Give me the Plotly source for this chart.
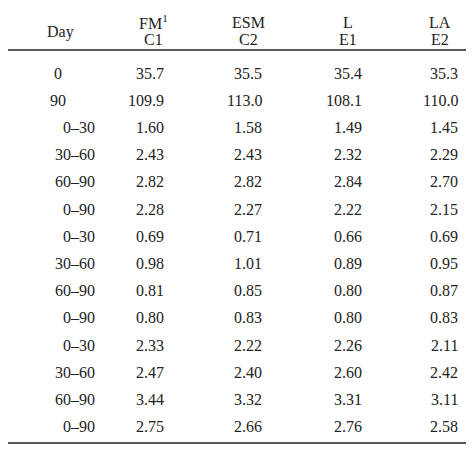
import plotly.graph_objects as go

days = ["0", "90", "0–30", "30–60", "60–90", "0–90", "0–30", "30–60", "60–90", "0–90",
        "0–30", "30–60", "60–90", "0–90"]
fm = ["35.7", "109.9", "1.60", "2.43", "2.82", "2.28", "0.69", "0.98", "0.81", "0.80",
      "2.33", "2.47", "3.44", "2.75"]
esm = ["35.5", "113.0", "1.58", "2.43", "2.82", "2.27", "0.71", "1.01", "0.85", "0.83",
       "2.22", "2.40", "3.32", "2.66"]
l_e1 = ["35.4", "108.1", "1.49", "2.32", "2.84", "2.22", "0.66", "0.89", "0.80", "0.80",
        "2.26", "2.60", "3.31", "2.76"]
la_e2 = ["35.3", "110.0", "1.45", "2.29", "2.70", "2.15", "0.69", "0.95", "0.87", "0.83",
         "2.11", "2.42", "3.11", "2.58"]
headers = [("Day", ""), ("FM<sup>1</sup>", "C1"), ("ESM", "C2"), ("L", "E1"), ("LA", "E2")]
footer = "eight; <sup>1</sup><i>P</i> &lt; 0.05 E1:E3"

fnt = dict(family="Liberation Serif", size=16, color="#222")
fig = go.Figure(layout=go.Layout(width=474, height=474, margin=dict(l=0, r=0, t=0, b=0),
                                 paper_bgcolor="white", plot_bgcolor="white", showlegend=False))
fig.add_scatter(x=[0, 474], y=[0, 474], mode="markers", marker=dict(opacity=0), hoverinfo="skip")
fig.update_xaxes(range=[0, 474], visible=False, fixedrange=True)
fig.update_yaxes(range=[474, 0], visible=False, fixedrange=True)

hx = [52, 145, 240, 340, 432]
for (a, b), x in zip(headers, hx):
    if b:
        fig.add_annotation(x=x, y=14, text=a, showarrow=False, font=fnt)
        fig.add_annotation(x=x, y=31, text=b, showarrow=False, font=fnt)
    else:
        fig.add_annotation(x=x, y=24, text=a, showarrow=False, font=fnt)

right = [158, 256, 356, 452]
ys = [65 + 27.2 * i for i in range(len(days))]
for i, y in enumerate(ys):
    if i < 2:
        fig.add_annotation(x=50, y=y, text=days[i], showarrow=False, font=fnt)
    else:
        fig.add_annotation(x=89, y=y, text=days[i], showarrow=False, font=fnt, xanchor="right")
    for col, xr in zip([fm, esm, l_e1, la_e2], right):
        fig.add_annotation(x=xr, y=y, text=col[i], showarrow=False, font=fnt, xanchor="right")

fig.add_shape(type="line", xref="x", yref="y", x0=0, x1=474, y0=42, y1=42,
              line=dict(color="#222", width=1.5))
fig.add_shape(type="line", xref="x", yref="y", x0=0, x1=474, y0=435, y1=435,
              line=dict(color="#222", width=1.5))
fig.add_annotation(x=-5, y=454, text=footer, showarrow=False, font=fnt, xanchor="left")

fig.write_html("out.html")
